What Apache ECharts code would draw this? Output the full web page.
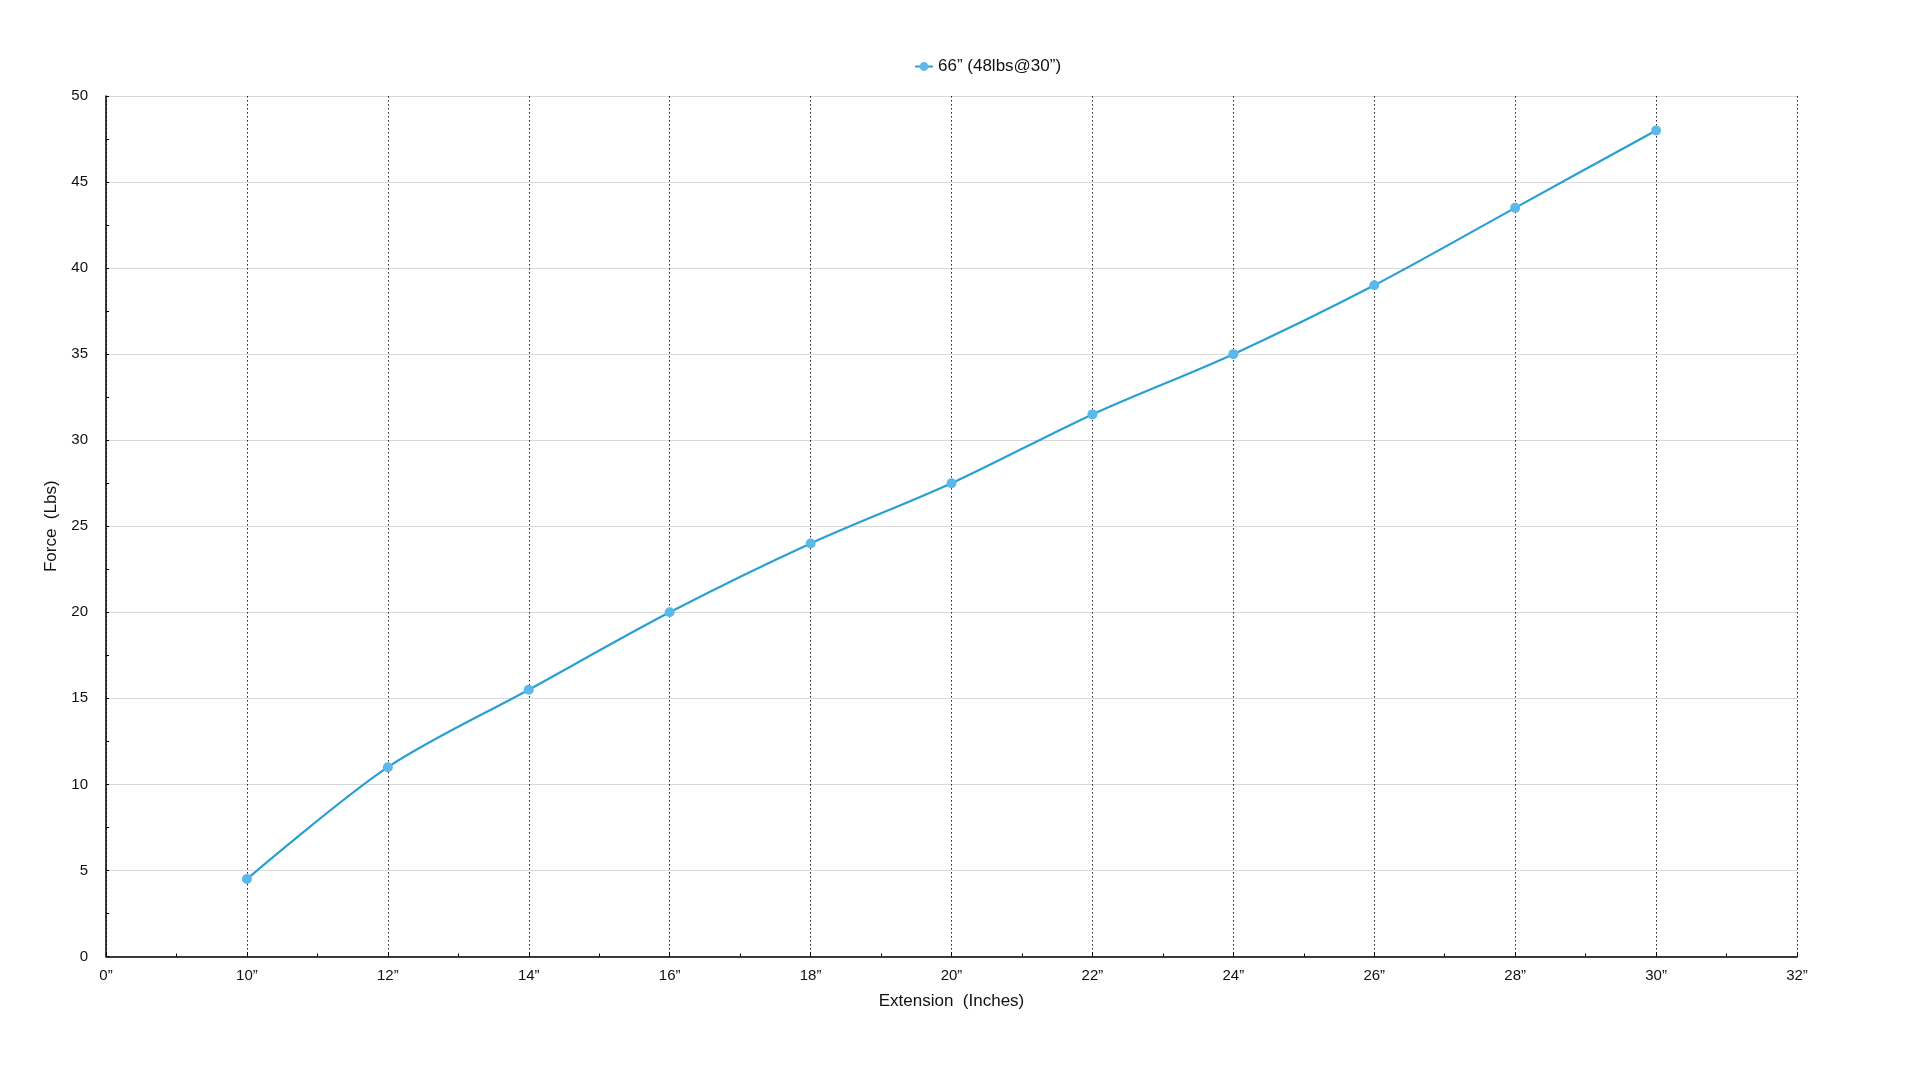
<!DOCTYPE html>
<html>
<head>
<meta charset="utf-8">
<script src="https://cdn.jsdelivr.net/npm/echarts@6/dist/echarts.min.js"></script>
<style>
html,body{margin:0;padding:0;background:#fff;}
#chart{width:1906px;height:1072px;}
</style>
</head>
<body>
<div id="chart"></div>
<script>
var categories = ['0\u201d','10\u201d','12\u201d','14\u201d','16\u201d','18\u201d','20\u201d','22\u201d','24\u201d','26\u201d','28\u201d','30\u201d','32\u201d'];
var seriesName = '66\u201d (48lbs@30\u201d)';
var forceValues = ['-', 4.5, 11, 15.5, 20, 24, 27.5, 31.5, 35, 39, 43.5, 48, '-'];
var yMin = 0, yMax = 50, yInterval = 5;

// hidden half-step axis used only to draw minor ticks between categories
var minorCats = [];
for (var i = 0; i < (categories.length - 1) * 2 + 1; i++) minorCats.push(String(i));

var font = 'Liberation Sans, Arial, Helvetica, sans-serif';
var chart = echarts.init(document.getElementById('chart'));
chart.setOption({
  animation: false,
  backgroundColor: '#ffffff',
  textStyle: {fontFamily: font},
  legend: {
    left: 909, top: 53,
    itemWidth: 18, itemHeight: 11,
    textStyle: {fontSize: 17, color: '#111', fontFamily: font},
    data: [seriesName]
  },
  grid: {left: 106, right: 109, top: 96, bottom: 115.5, containLabel: false},
  xAxis: [{
    type: 'category',
    data: categories,
    boundaryGap: false,
    name: 'Extension  (Inches)',
    nameLocation: 'middle',
    nameGap: 36,
    nameTextStyle: {fontSize: 17, color: '#111', fontFamily: font},
    axisLine: {show: true, lineStyle: {color: '#000', width: 1.5}},
    axisTick: {show: true, inside: true, length: 4, lineStyle: {color: '#000'}},
    axisLabel: {fontSize: 15, color: '#111', margin: 12, fontFamily: font},
    splitLine: {show: true, lineStyle: {color: '#222', type: [1.5, 2.5], width: 1}}
  }, {
    type: 'category',
    data: minorCats,
    boundaryGap: false,
    position: 'bottom',
    axisLine: {show: false},
    axisTick: {show: true, inside: true, length: 3, lineStyle: {color: '#000'}},
    axisLabel: {show: false},
    splitLine: {show: false}
  }],
  yAxis: {
    type: 'value',
    min: yMin, max: yMax, interval: yInterval,
    name: 'Force  (Lbs)',
    nameLocation: 'middle',
    nameGap: 46,
    nameRotate: 90,
    nameTextStyle: {fontSize: 17, color: '#111', fontFamily: font},
    axisLine: {show: true, lineStyle: {color: '#000', width: 1.5}},
    axisTick: {show: true, inside: true, length: 3, lineStyle: {color: '#000'}},
    minorTick: {show: true, splitNumber: 2, length: 3, lineStyle: {color: '#000'}},
    axisLabel: {fontSize: 15, color: '#111', margin: 18, fontFamily: font},
    splitLine: {show: true, lineStyle: {color: '#d9d9d9', width: 1}}
  },
  series: [{
    name: seriesName,
    type: 'line',
    xAxisIndex: 0,
    data: forceValues,
    smooth: 0.3,
    symbol: 'circle',
    symbolSize: 10,
    showSymbol: true,
    lineStyle: {color: '#2a9fd4', width: 2.2},
    itemStyle: {color: '#5cb8e8'}
  }]
});
</script>
</body>
</html>
